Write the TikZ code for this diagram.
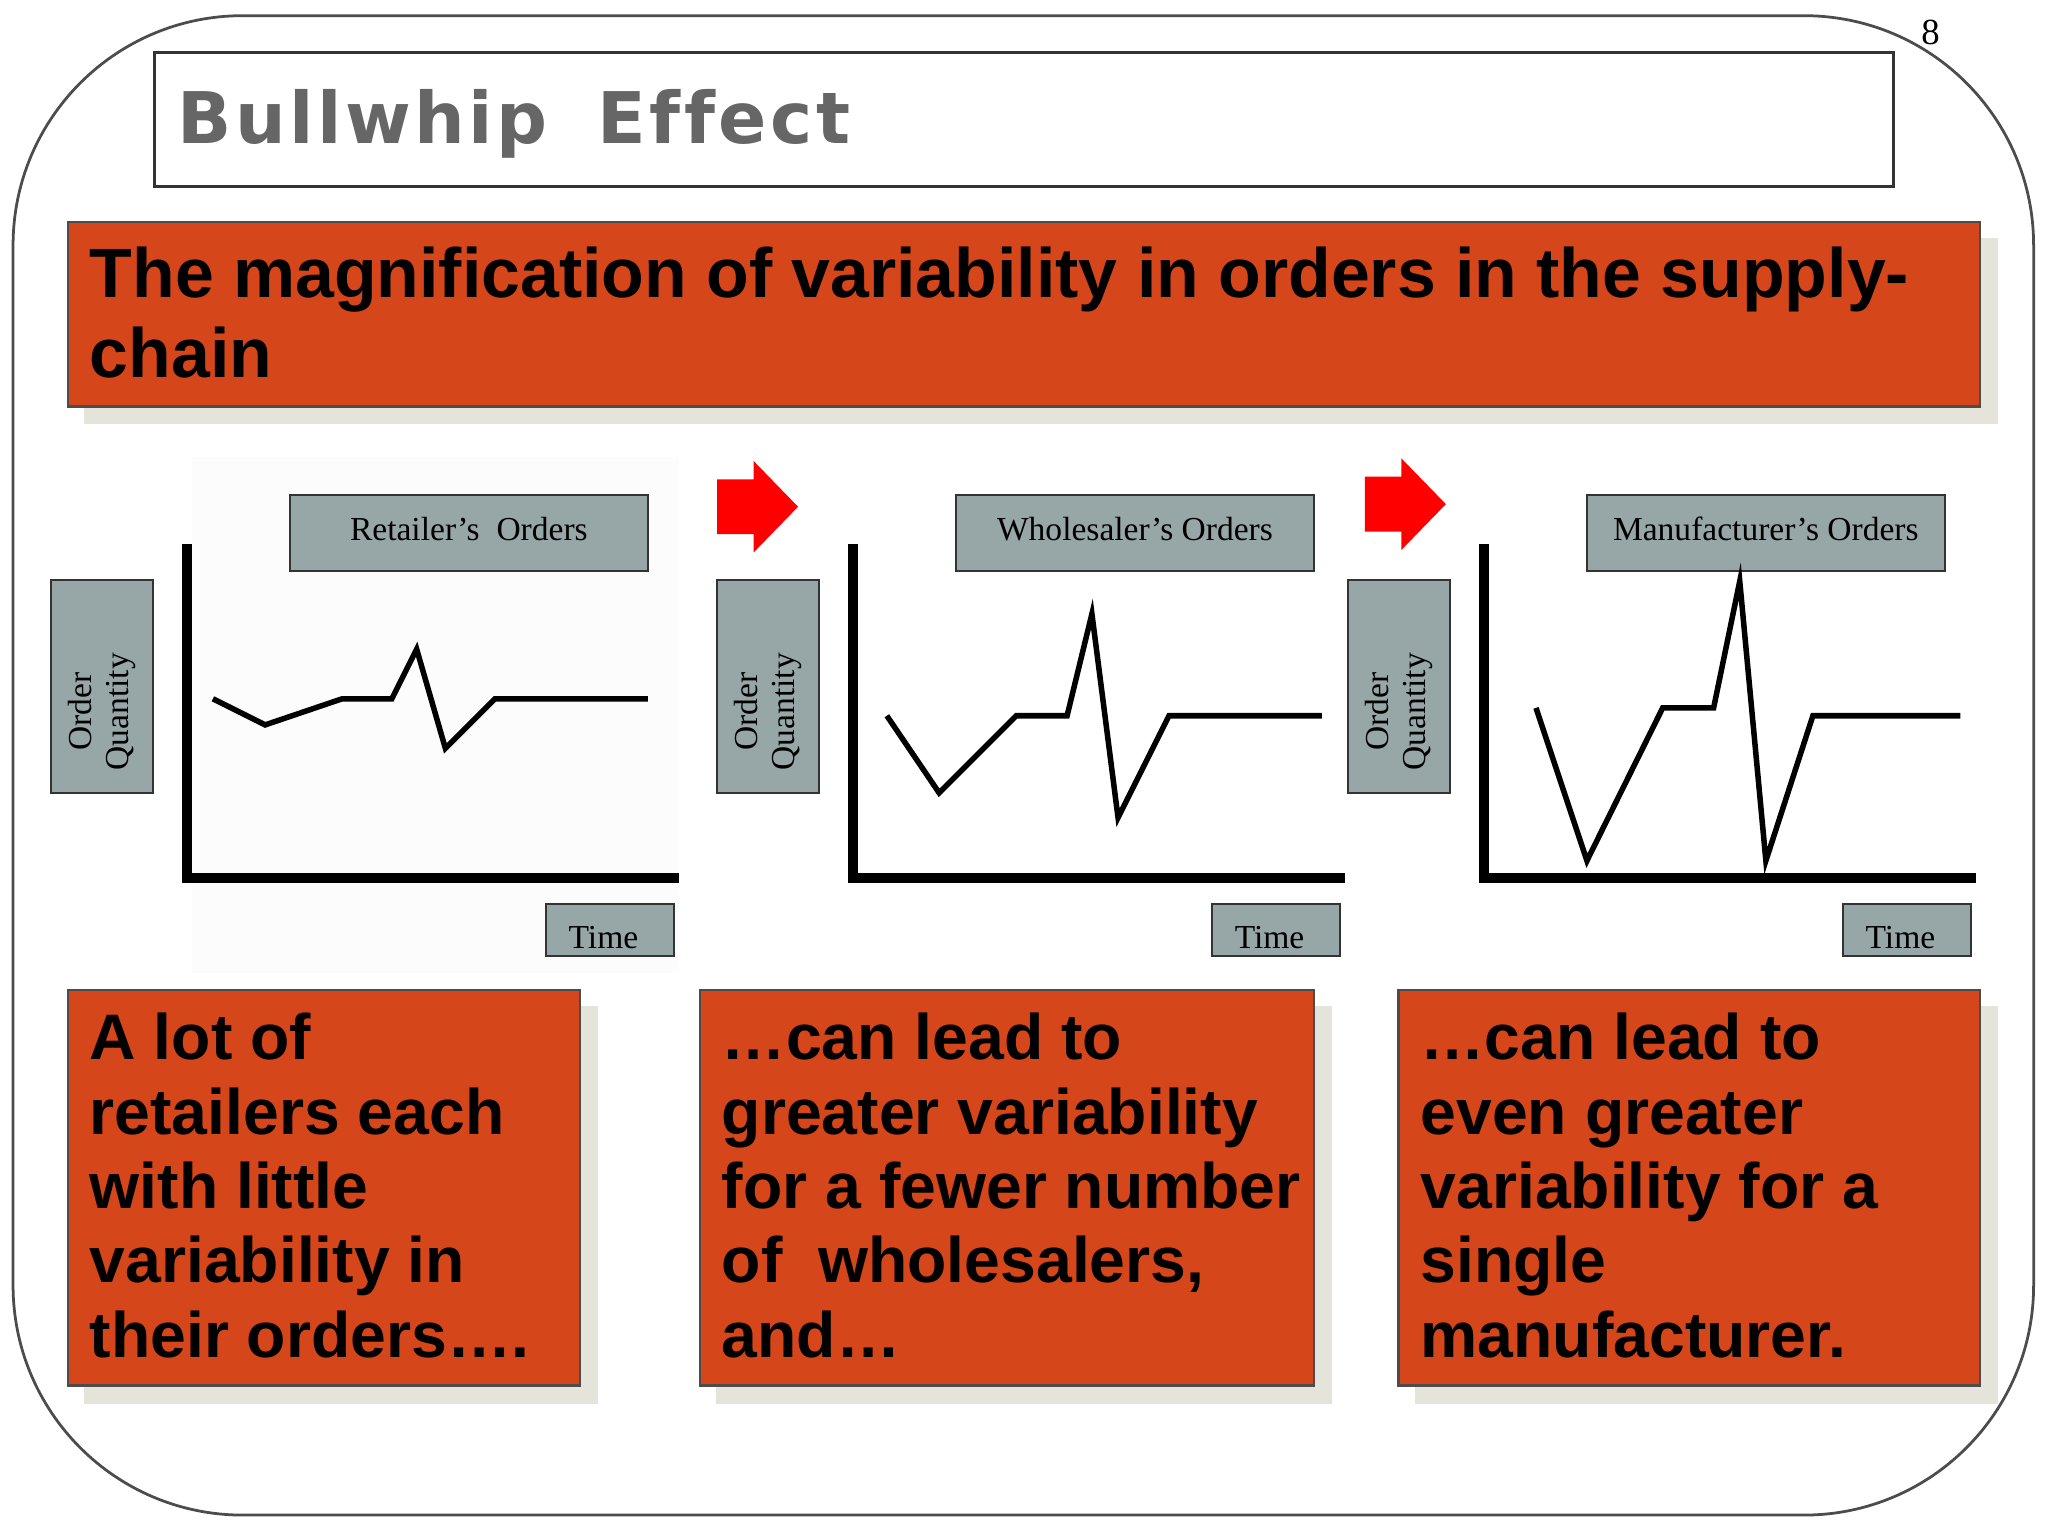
\documentclass[tikz,border=0pt]{standalone}
\usepackage{fontspec}
\setmainfont{Liberation Serif}
\newfontfamily\boxfont{Liberation Sans}
\newfontfamily\titlefont{DejaVu Sans}
\usetikzlibrary{shapes.arrows}
\definecolor{org}{HTML}{D5461A}
\definecolor{shd}{HTML}{E4E4DA}
\definecolor{lbl}{HTML}{97A6A6}
\definecolor{ttl}{HTML}{666666}
\tikzset{
 ob/.style={draw=black!70,line width=0.6pt,fill=org,inner sep=0pt},
 shadowbox/.style={fill=shd,draw=none},
 lb/.style={draw=black!80,line width=0.5pt,fill=lbl},
 ax/.style={line width=2.2pt,line cap=rect},
 cv/.style={line width=1.2pt,line join=miter},
 otxt/.style={anchor=north west,align=left,font=\boxfont\bfseries\fontsize{14}{16.2}\selectfont,text=black,inner sep=0pt},
 ltxt/.style={font=\fontsize{7.3}{8.2}\selectfont}
}
\begin{document}
\begin{tikzpicture}[x=0.01cm,y=-0.01cm]
\useasboundingbox (0,0) rectangle (1568,1176);
\fill[white] (0,0) rectangle (1568,1176);
\draw[rounded corners=50,line width=0.6pt,black!70] (10,12) rectangle (1557,1160);
\node[font=\fontsize{8}{9}\selectfont] (pg) at (1478,25) {8};
\draw[line width=0.7pt,black!80] (118,40) rectangle (1450,143);
\node[anchor=west,text=ttl,inner sep=0pt] (title) at (135,95) {\resizebox{5.15cm}{!}{\titlefont\bfseries B\kern0.5pt u\kern0.5pt l\kern0.5pt l\kern0.5pt w\kern0.5pt h\kern0.5pt i\kern0.5pt p\ \ E\kern0.5pt f\kern0.5pt f\kern0.5pt e\kern0.5pt c\kern0.5pt t}};
% header
\fill[shd] (64,182) rectangle (1530,325);
\draw[ob] (52,170) rectangle (1516,311);
\node[otxt,font=\boxfont\bfseries\fontsize{15.2}{17.6}\selectfont] (head) at (68,188) {The magnification of variability in orders in the supply-\\chain};
% bottom boxes
\foreach \a/\b in {52/444,536/1006,1071/1516}{
 \fill[shd] (\a+12,770) rectangle (\b+14,1075);
 \draw[ob] (\a,758) rectangle (\b,1061);}
\node[otxt] (b1) at (68,775) {A lot of\\retailers each\\with little\\variability in\\their orders\dots.};
\node[otxt] (b2) at (552,775) {\dots can lead to\\greater variability\\for a fewer number\\of\ \ wholesalers,\\and\dots};
\node[otxt] (b3) at (1087,775) {\dots can lead to\\even greater\\variability for a\\single\\manufacturer.};
% faint chart backgrounds
\fill[black!1] (147,350) rectangle (520,745);
% charts
\foreach \o/\t in {0/Retailer’s\ \ Orders,510/Wholesaler’s Orders,993/Manufacturer’s Orders}{
 \begin{scope}[xshift=\o*0.01cm]
 \draw[lb] (222,379) rectangle (496,437);
 \node[ltxt] at (359,405) {\t};
 \draw[lb] (39,444) rectangle (117,607);
 \node[ltxt,rotate=90,align=center] at (78,545) {Order\\Quantity};
 \draw[lb] (418,692) rectangle (516,732);
 \node[ltxt,anchor=base] at (462,726) {Time};
 \draw[ax] (143,420) -- (143,672) -- (516,672);
 \end{scope}}
\draw[cv] (163,535)--(203,555)--(262,535)--(300,535)--(319,497)--(341,573)--(379,535)--(496,535);
\draw[cv] (679,548)--(719,607)--(778,548)--(817,548)--(836,470)--(856,626)--(895,548)--(1012,548);
\draw[cv] (1176,542)--(1215,659)--(1273,542)--(1312,542)--(1332,445)--(1352,659)--(1388,548)--(1501,548);
% red arrows
\foreach \x/\y in {549/388,1045/386}{
 \fill[red] (\x,\y-21)--(\x+28,\y-21)--(\x+28,\y-35)--(\x+62,\y)--(\x+28,\y+35)--(\x+28,\y+21)--(\x,\y+21)--cycle;}
\end{tikzpicture}
\end{document}
